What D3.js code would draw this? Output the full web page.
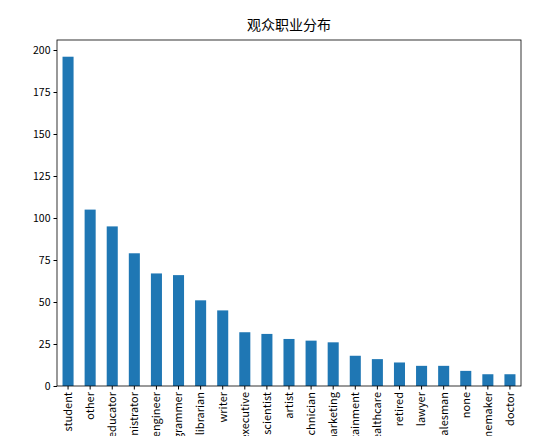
<!DOCTYPE html>
<html><head><meta charset="utf-8">
<script src="https://cdn.jsdelivr.net/npm/d3@7"></script>
<style>body{margin:0;background:#fff}text{font-family:"Noto Sans CJK SC","DejaVu Sans",sans-serif}</style>
</head><body><svg width="554" height="436"></svg>
<script>
var occupations = ["student","other","educator","administrator","engineer","programmer","librarian","writer","executive","scientist","artist","technician","marketing","entertainment","healthcare","retired","lawyer","salesman","none","homemaker","doctor"];
var counts = [196,105,95,79,67,66,51,45,32,31,28,27,26,18,16,14,12,12,9,7,7];
var yTicks = [0,25,50,75,100,125,150,175,200];

function main(){
    var svg = d3.select("svg"),
        left = 57, top = 40, right = 521, bottom = 386;

    var x = d3.scaleBand().domain(occupations).range([left, right]).paddingInner(0.5).paddingOuter(0.25);
    var y = d3.scaleLinear().domain([0, 200]).range([bottom, 50]);

    svg.append("text").attr("x", (left + right) / 2).attr("y", 30)
        .attr("text-anchor", "middle").attr("font-size", "14px").text("观众职业分布");

    svg.selectAll(".bar").data(counts).enter().append("rect")
        .attr("x", function(d, i){ return x(occupations[i]); })
        .attr("y", function(d){ return y(d); })
        .attr("width", x.bandwidth())
        .attr("height", function(d){ return bottom - y(d); })
        .attr("fill", "#1f77b4");

    // labels run past the bottom edge, as in the original
    var gx = svg.append("g").attr("transform", "translate(0," + bottom + ")")
        .call(d3.axisBottom(x).tickSize(3.5).tickSizeOuter(0));
    gx.selectAll("text").attr("transform", "rotate(-90)")
        .attr("text-anchor", "end").attr("x", -6).attr("y", 0).attr("dy", "0.35em")
        .attr("font-family", "'DejaVu Sans Mono',monospace")
        .attr("font-size", "11px").attr("fill", "#000");

    var gy = svg.append("g").attr("transform", "translate(" + left + ",0)")
        .call(d3.axisLeft(y).tickValues(yTicks).tickSize(3.5).tickSizeOuter(0));
    gy.selectAll("text").attr("font-family", "'DejaVu Sans Mono',monospace")
        .attr("font-size", "10.5px").attr("fill", "#000");

    svg.selectAll(".domain").remove();
    svg.append("rect").attr("x", left).attr("y", top).attr("width", right - left).attr("height", bottom - top)
        .attr("fill", "none").attr("stroke", "#000").attr("stroke-width", 0.8);
}
main();
</script></body></html>
